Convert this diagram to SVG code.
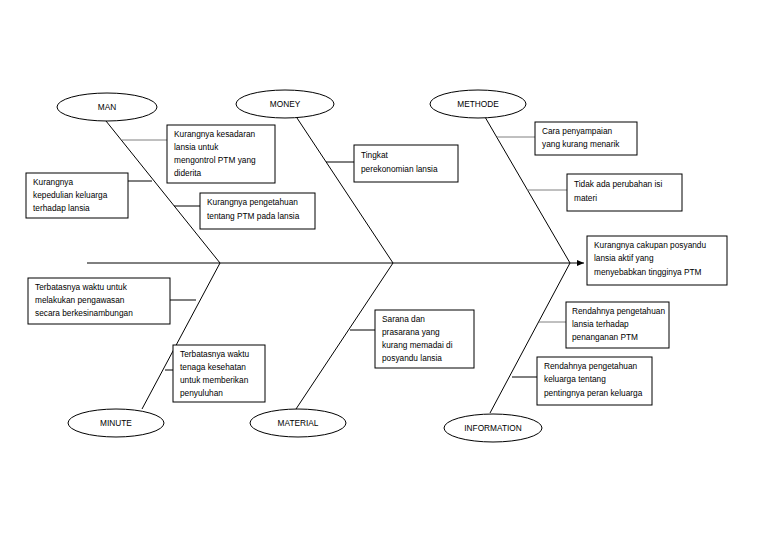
<svg xmlns="http://www.w3.org/2000/svg" width="768" height="543" viewBox="0 0 768 543">
<style>
.b{fill:#fff;stroke:#000;stroke-width:1}
.e{fill:#fff;stroke:#000;stroke-width:1}
.l{stroke:#000;stroke-width:1;fill:none}
.g{stroke:#808080;stroke-width:1;fill:none}
text{font-family:"Liberation Sans",Arial,sans-serif;font-size:8.3px;fill:#000}
.c{text-anchor:middle}
</style>
<defs><marker id="ar" markerWidth="8" markerHeight="8" refX="7" refY="4" orient="auto" markerUnits="userSpaceOnUse"><path d="M0,1 L7,4 L0,7z" fill="#000"/></marker></defs>
<rect width="768" height="543" fill="#fff"/>
<g id="connectors">
<line class="l" x1="87" y1="263" x2="584" y2="263" marker-end="url(#ar)"/>
<line class="l" x1="106" y1="121" x2="220" y2="263"/>
<line class="l" x1="297" y1="118" x2="393" y2="263"/>
<line class="l" x1="485" y1="117" x2="570" y2="263"/>
<line class="l" x1="142" y1="409" x2="220" y2="263"/>
<line class="l" x1="296" y1="409" x2="393" y2="263"/>
<line class="l" x1="490" y1="413" x2="570" y2="263"/>
<line class="g" x1="122" y1="140" x2="167" y2="140"/>
<line class="l" x1="128" y1="181" x2="152" y2="181"/>
<line class="l" x1="174" y1="206" x2="200" y2="206"/>
<line class="l" x1="326" y1="162" x2="354" y2="162"/>
<line class="g" x1="497" y1="137" x2="535" y2="137"/>
<line class="g" x1="527" y1="190" x2="567" y2="190"/>
<line class="l" x1="170" y1="300" x2="196" y2="300"/>
<line class="l" x1="165" y1="370" x2="173" y2="370"/>
<line class="l" x1="350" y1="330" x2="375" y2="330"/>
<line class="g" x1="539" y1="322" x2="566" y2="322"/>
<line class="l" x1="512" y1="377" x2="537" y2="377"/>
</g>
<g id="man"><ellipse class="e" cx="107" cy="107" rx="50" ry="14"/><text class="c" x="107" y="110">MAN</text></g>
<g id="money"><ellipse class="e" cx="285" cy="104" rx="49" ry="14"/><text class="c" x="285" y="107">MONEY</text></g>
<g id="methode"><ellipse class="e" cx="478" cy="104" rx="48" ry="14"/><text class="c" x="478" y="107">METHODE</text></g>
<g id="minute"><ellipse class="e" cx="116" cy="423" rx="48" ry="14"/><text class="c" x="116" y="426">MINUTE</text></g>
<g id="material"><ellipse class="e" cx="298" cy="423" rx="48" ry="14"/><text class="c" x="298" y="426">MATERIAL</text></g>
<g id="information"><ellipse class="e" cx="493" cy="428" rx="49" ry="14"/><text class="c" x="493" y="431">INFORMATION</text></g>
<g id="b1"><rect class="b" x="167" y="125" width="108" height="58"/><text x="174" y="137">Kurangnya kesadaran</text><text x="174" y="150">lansia untuk</text><text x="174" y="163">mengontrol PTM yang</text><text x="174" y="176">diderita</text></g>
<g id="b2"><rect class="b" x="26" y="173" width="102" height="45"/><text x="33" y="185">Kurangnya</text><text x="33" y="198">kepedulian keluarga</text><text x="33" y="211">terhadap lansia</text></g>
<g id="b3"><rect class="b" x="200" y="193" width="115" height="36"/><text x="207" y="205">Kurangnya pengetahuan</text><text x="207" y="219">tentang PTM pada lansia</text></g>
<g id="b4"><rect class="b" x="354" y="145" width="104" height="37"/><text x="361" y="158">Tingkat</text><text x="361" y="172">perekonomian lansia</text></g>
<g id="b5"><rect class="b" x="535" y="122" width="102" height="33"/><text x="542" y="134">Cara penyampaian</text><text x="542" y="147">yang kurang menarik</text></g>
<g id="b6"><rect class="b" x="567" y="174" width="115" height="37"/><text x="574" y="187">Tidak ada perubahan isi</text><text x="574" y="201">materi</text></g>
<g id="b7"><rect class="b" x="587" y="236" width="140" height="49"/><text x="594" y="248">Kurangnya cakupan posyandu</text><text x="594" y="261">lansia aktif yang</text><text x="594" y="275">menyebabkan tingginya PTM</text></g>
<g id="b8"><rect class="b" x="28" y="278" width="142" height="46"/><text x="35" y="290">Terbatasnya waktu untuk</text><text x="35" y="303">melakukan pengawasan</text><text x="35" y="316">secara berkesinambungan</text></g>
<g id="b9"><rect class="b" x="173" y="345" width="92" height="57"/><text x="180" y="357">Terbatasnya waktu</text><text x="180" y="370">tenaga kesehatan</text><text x="180" y="383">untuk memberikan</text><text x="180" y="396">penyuluhan</text></g>
<g id="b10"><rect class="b" x="375" y="310" width="99" height="58"/><text x="382" y="322">Sarana dan</text><text x="382" y="335">prasarana yang</text><text x="382" y="348">kurang memadai di</text><text x="382" y="361">posyandu lansia</text></g>
<g id="b11"><rect class="b" x="566" y="302" width="103" height="46"/><text x="572" y="314" textLength="93" lengthAdjust="spacingAndGlyphs">Rendahnya pengetahuan</text><text x="572" y="327">lansia terhadap</text><text x="572" y="340">penanganan PTM</text></g>
<g id="b12"><rect class="b" x="537" y="357" width="115" height="48"/><text x="544" y="369">Rendahnya pengetahuan</text><text x="544" y="382">keluarga tentang</text><text x="544" y="396">pentingnya peran keluarga</text></g>
</svg>
